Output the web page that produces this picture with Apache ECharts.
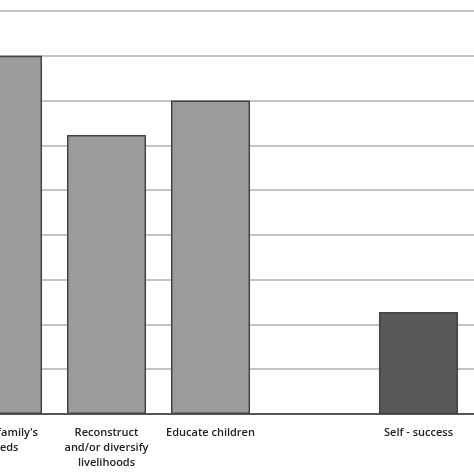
<!DOCTYPE html>
<html><head><meta charset="utf-8">
<script src="https://cdn.jsdelivr.net/npm/echarts@6/dist/echarts.min.js"></script>
<style>html,body{margin:0;padding:0;background:#fff}#c{width:474px;height:474px}</style>
</head><body><div id="c"></div>
<script>
const categories = ["Meet family's\nneeds", "Reconstruct\nand/or diversify\nlivelihoods", "Educate children", "", "Self - success", ""];
const values = [8, 6.23, 7, null, 2.28, null];
const barColors = ['#9c9c9c', '#9c9c9c', '#9c9c9c', '#9c9c9c', '#595959', '#595959'];
const chart = echarts.init(document.getElementById('c'));
chart.setOption({
  animation: false,
  grid: { left: -49.5, top: 11, width: 624, height: 403, containLabel: false, outerBoundsMode: 'none' },
  xAxis: {
    type: 'category', data: categories,
    axisLine: { lineStyle: { color: '#333', width: 1.5 } },
    axisTick: { show: false },
    axisLabel: { color: '#222', fontFamily: 'Open Sans', fontWeight: 600, fontSize: 11, lineHeight: 15, margin: 11, interval: 0, hideOverlap: false }
  },
  yAxis: {
    type: 'value', min: 0, max: 9, interval: 1,
    axisLabel: { show: false }, axisLine: { show: false }, axisTick: { show: false },
    splitLine: { lineStyle: { color: '#b0b0b0', width: 1.5 } }
  },
  series: [{
    type: 'bar', data: values, barCategoryGap: '24%',
    itemStyle: { color: p => barColors[p.dataIndex], borderColor: '#444', borderWidth: 1.5 }
  }]
});
</script></body></html>
